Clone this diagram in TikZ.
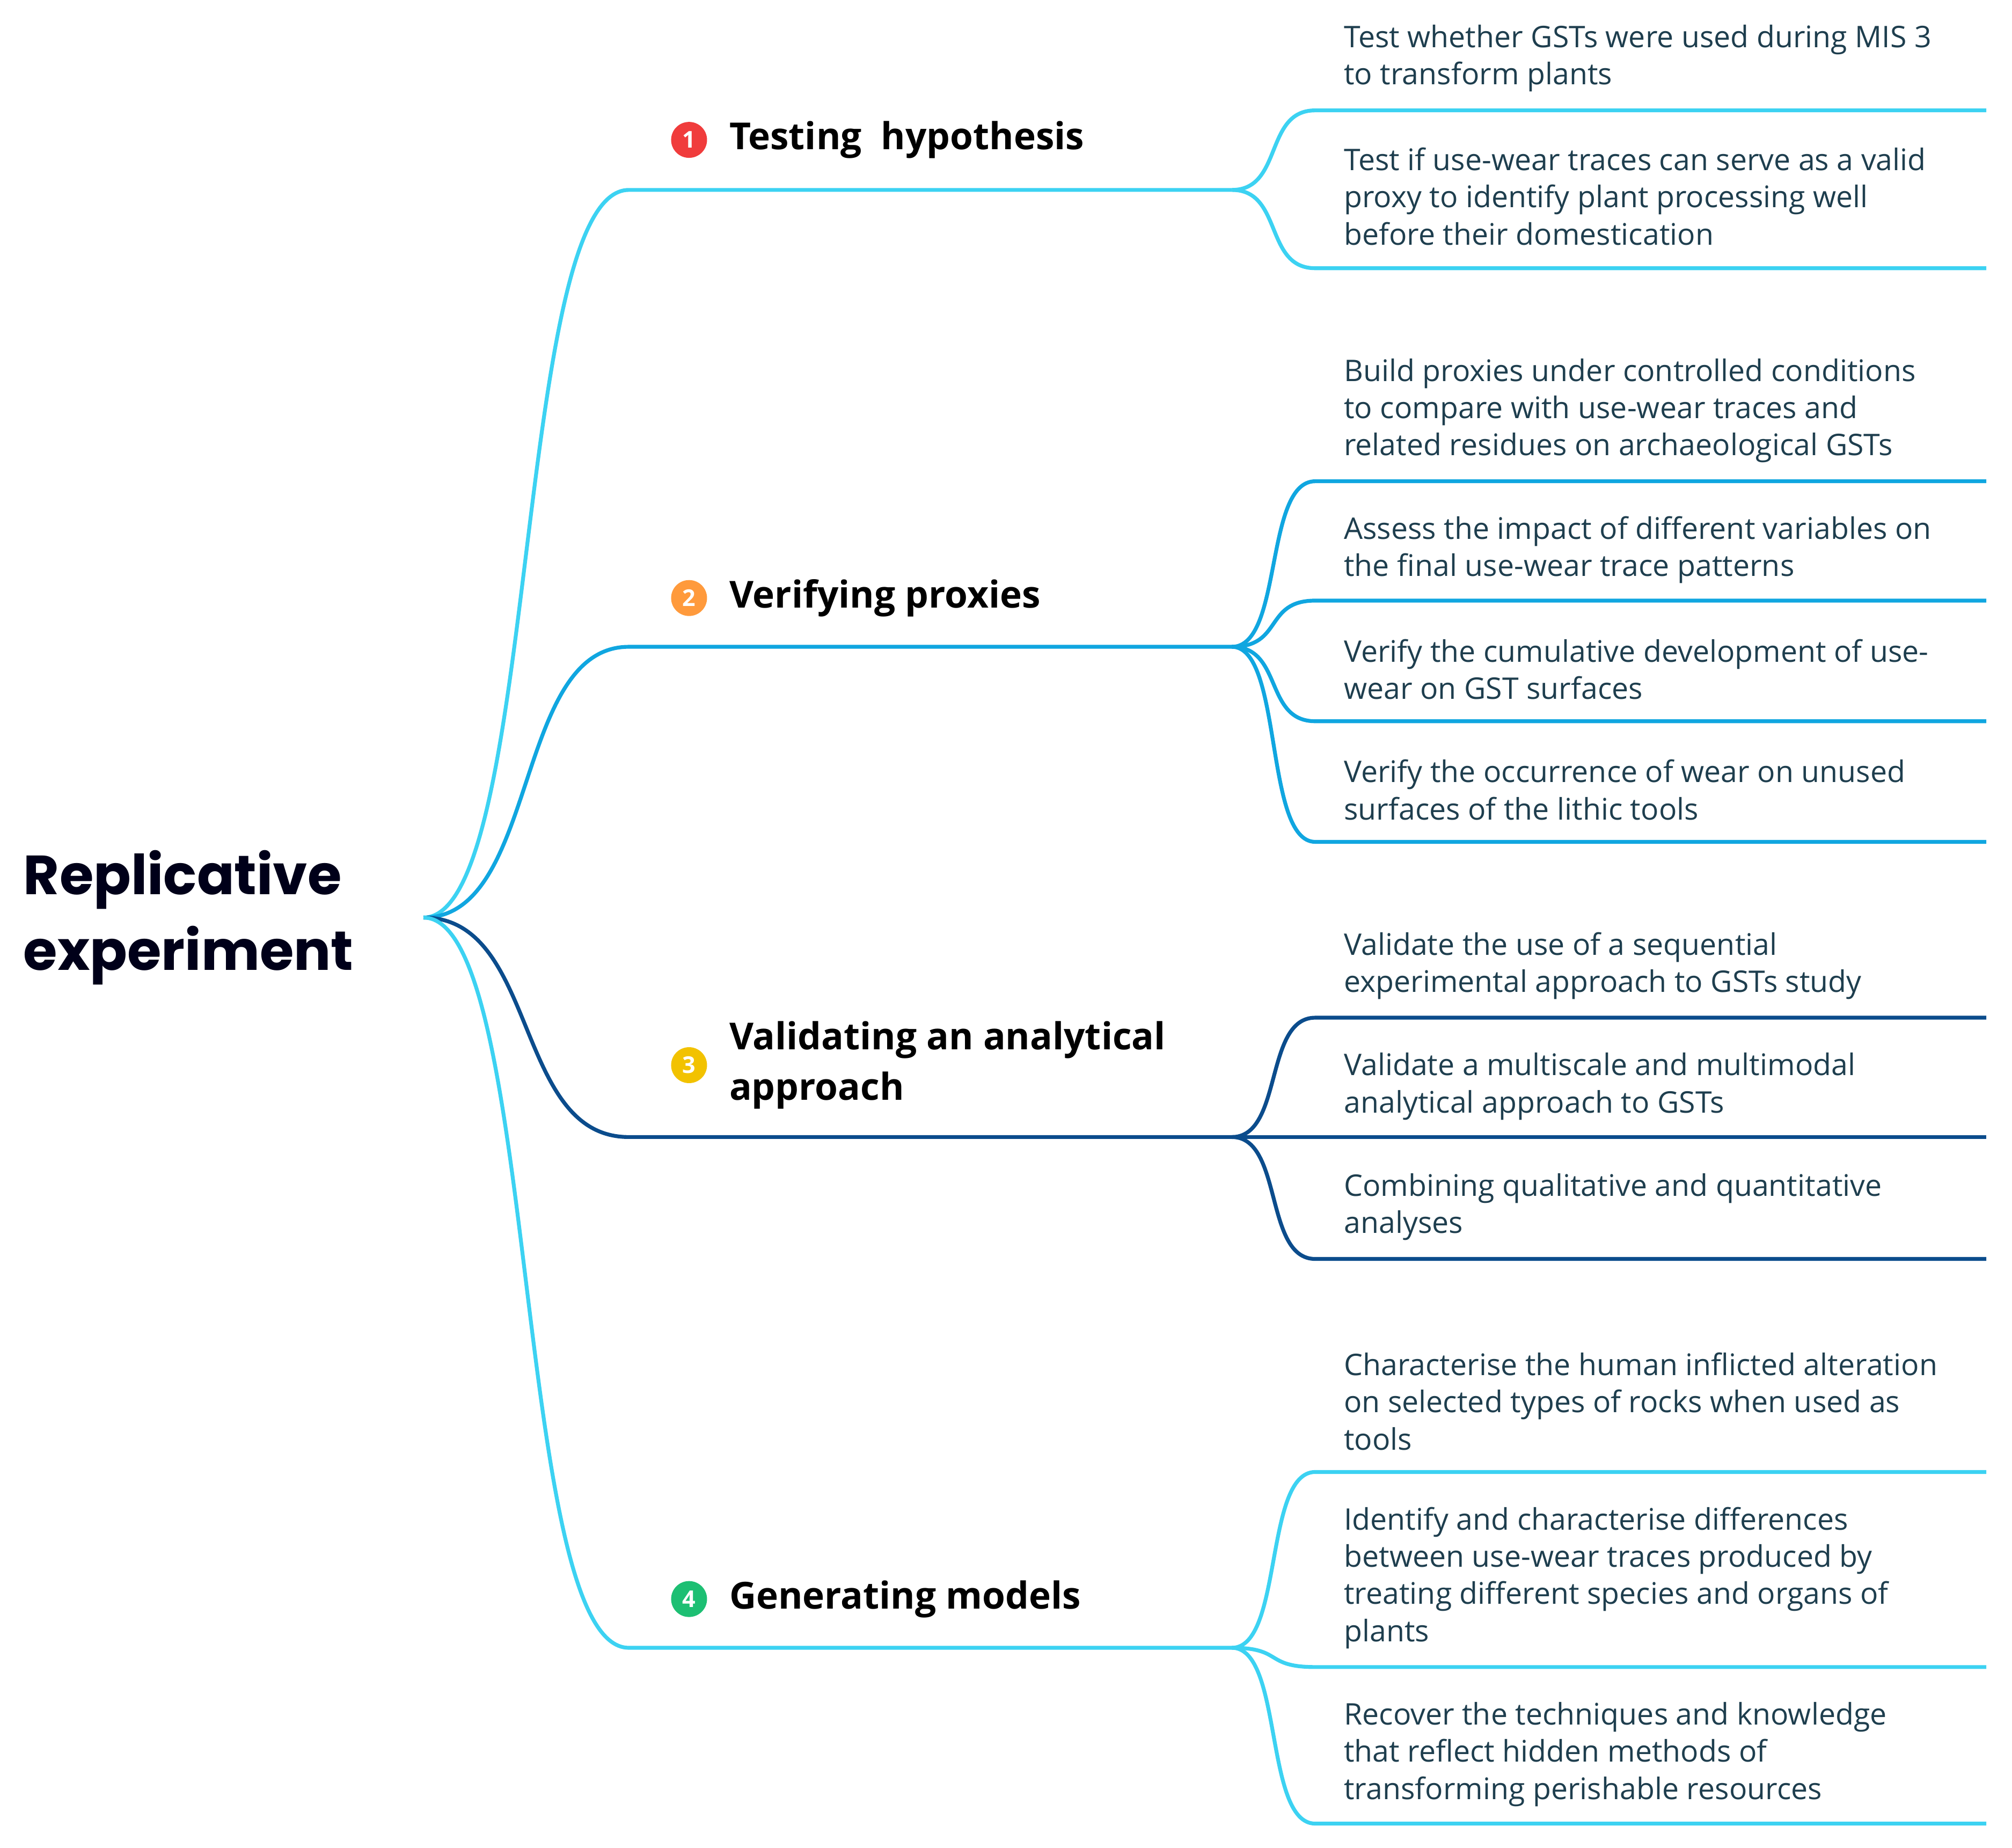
\documentclass[tikz,border=0pt]{standalone}
\usepackage{fontspec}
\setmainfont{Open Sans}
\newfontfamily\headf{Poppins}
\definecolor{cA}{HTML}{3CD2F2}
\definecolor{cB}{HTML}{10A6E0}
\definecolor{cC}{HTML}{0B4C8C}
\definecolor{txt}{HTML}{1E3E4E}
\definecolor{iR}{HTML}{F03C3C}
\definecolor{iO}{HTML}{FF9A3C}
\definecolor{iY}{HTML}{F2C200}
\definecolor{iG}{HTML}{1DBF73}
\begin{document}
\begin{tikzpicture}[x=0.5pt,y=-0.5pt,
  leaf/.style={anchor=west,align=left,inner sep=0,text=txt,font=\fontsize{11.6}{14.5}\selectfont},
  head/.style={anchor=west,align=left,inner sep=0,text=black,font=\fontsize{14.5}{19.5}\selectfont\bfseries},
  icon/.style={circle,fill=#1,minimum size=14pt,inner sep=0,text=white,font=\fontsize{9}{9}\selectfont\bfseries},
  br/.style={line width=1.5pt,draw=#1}]
\useasboundingbox (0,0) rectangle (1568,1440);
\node[anchor=west,inner sep=0,align=left,font=\headf\fontsize{21.5}{29.5}\selectfont\bfseries,text=black!90!blue] (root) at (18,715) {Replicative\\experiment};
\coordinate (R) at (330,715);
% main branches
\coordinate (m1a) at (490,148); \coordinate (m1b) at (960,148);
\coordinate (m2a) at (490,504); \coordinate (m2b) at (960,504);
\coordinate (m3a) at (490,886); \coordinate (m3b) at (960,886);
\coordinate (m4a) at (490,1284); \coordinate (m4b) at (960,1284);
\draw[br=cA] (R) .. controls (420,715) and (400,148) .. (m1a) -- (m1b);
\draw[br=cB] (R) .. controls (420,715) and (400,504) .. (m2a) -- (m2b);
\draw[br=cC] (R) .. controls (420,715) and (400,886) .. (m3a) -- (m3b);
\draw[br=cA] (R) .. controls (420,715) and (400,1284) .. (m4a) -- (m4b);
% labels
\node[icon=iR] (i1) at (537,109) {1}; \node[head] (h1) at (568,109) {Testing\ \ hypothesis};
\node[icon=iO] (i2) at (537,466) {2}; \node[head] (h2) at (568,466) {Verifying proxies};
\node[icon=iY] (i3) at (537,830) {3}; \node[head] (h3) at (568,830) {Validating an analytical\\approach};
\node[icon=iG] (i4) at (537,1246) {4}; \node[head] (h4) at (568,1246) {Generating models};
% sub-branches
\foreach \m/\y/\c/\n in {m1b/86/cA/s1a, m1b/209/cA/s1b,
  m2b/375/cB/s2a, m2b/468/cB/s2b, m2b/562/cB/s2c, m2b/656/cB/s2d,
  m3b/793/cC/s3a, m3b/886/cC/s3b, m3b/981/cC/s3c,
  m4b/1147/cA/s4a, m4b/1299/cA/s4b, m4b/1421/cA/s4c}{
  \coordinate (\n) at (1025,\y); \coordinate (\n e) at (1548,\y);
  \draw[br=\c] (\m) .. controls ([xshift=20pt]\m) and ([xshift=-20pt]\n) .. (\n) -- (\n e);
}
\node[leaf] (t1a) at (1047,45.5) {Test whether GSTs were used during MIS 3\\to transform plants};
\node[leaf] (t1b) at (1047,153) {Test if use-wear traces can serve as a valid\\proxy to identify plant processing well\\before their domestication};
\node[leaf] (t2a) at (1047,320) {Build proxies under controlled conditions\\to compare with use-wear traces and\\related residues on archaeological GSTs};
\node[leaf] (t2b) at (1047,428.5) {Assess the impact of different variables on\\the final use-wear trace patterns};
\node[leaf] (t2c) at (1047,521.5) {Verify the cumulative development of use-\\wear on GST surfaces};
\node[leaf] (t2d) at (1047,615.5) {Verify the occurrence of wear on unused\\surfaces of the lithic tools};
\node[leaf] (t3a) at (1047,752.5) {Validate the use of a sequential\\experimental approach to GSTs study};
\node[leaf] (t3b) at (1047,846.5) {Validate a multiscale and multimodal\\analytical approach to GSTs};
\node[leaf] (t3c) at (1047,940.5) {Combining qualitative and quantitative\\analyses};
\node[leaf] (t4a) at (1047,1092) {Characterise the human inflicted alteration\\on selected types of rocks when used as\\tools};
\node[leaf] (t4b) at (1047,1229.5) {Identify and characterise differences\\between use-wear traces produced by\\treating different species and organs of\\plants};
\node[leaf] (t4c) at (1047,1367) {Recover the techniques and knowledge\\that reflect hidden methods of\\transforming perishable resources};
\end{tikzpicture}
\end{document}
